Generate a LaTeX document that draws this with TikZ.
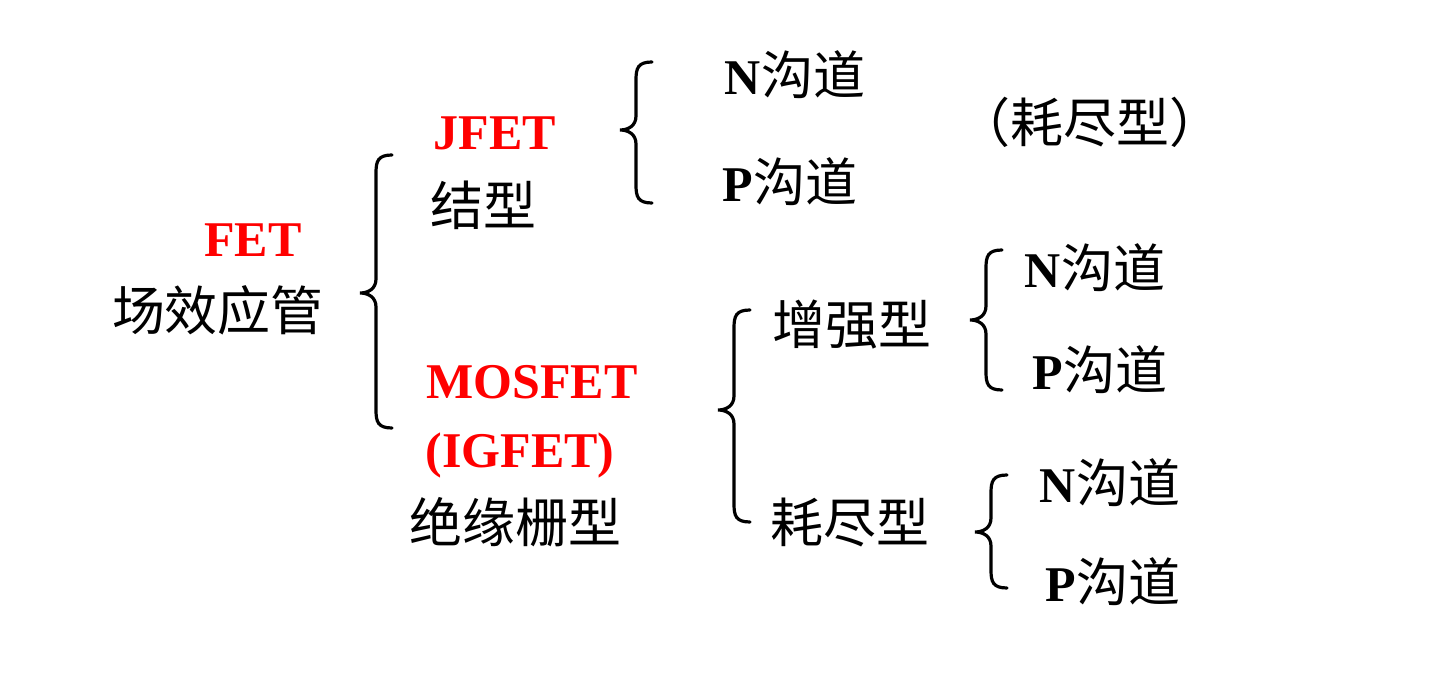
\documentclass[tikz,border=0pt]{standalone}
\usepackage{fontspec}
\setmainfont{Liberation Serif}
\newfontfamily\cjk{Noto Sans CJK SC}
\newcommand{\gd}{{\mdseries\fontsize{26}{28}\selectfont\cjk 沟道}}
\begin{document}
\begin{tikzpicture}[x=0.5pt,y=-0.5pt,
  lat/.style={font=\fontsize{25}{28}\selectfont\bfseries},
  red/.style={lat,text=red},
  zh/.style={font=\fontsize{26.5}{28}\selectfont\cjk},
  br/.style={line width=1.6pt,line cap=round}]
\useasboundingbox (0,0) rectangle (1436,700);
\newcommand{\mybrace}[4]{% x, ytop, ybot, ytip
  \draw[br] (#1+32,#2) .. controls (#1+18,#2) and (#1+16,#2+6) .. (#1+16,#2+18)
    -- (#1+16,#4-14) .. controls (#1+16,#4-4) and (#1+8,#4) .. (#1,#4)
    .. controls (#1+8,#4) and (#1+16,#4+4) .. (#1+16,#4+14)
    -- (#1+16,#3-18) .. controls (#1+16,#3-6) and (#1+18,#3) .. (#1+32,#3);}
\node[red] (fet) at (253,240) {FET};
\node[zh] (fetzh) at (218,310) {场效应管};
\node[red] (jfet) at (495,133) {JFET};
\node[zh] (jzh) at (483,205) {结型};
\node[red] (mos) at (532,382) {MOSFET};
\node[red] (ig) at (520,455) {(IGFET)};
\node[zh] (mzh) at (515,522) {绝缘栅型};
\node[lat] (n1) at (795,75) {N\gd};
\node[lat] (p1) at (790,182) {P\gd};
\node[zh] (hj) at (1090,122) {（耗尽型）};
\node[zh] (zq) at (852,325) {增强型};
\node[lat] (n2) at (1095,268) {N\gd};
\node[lat] (p2) at (1100,370) {P\gd};
\node[zh] (hj2) at (850,522) {耗尽型};
\node[lat] (n3) at (1110,483) {N\gd};
\node[lat] (p3) at (1113,582) {P\gd};
\mybrace{360}{155}{428}{293}
\mybrace{620}{62}{203}{130}
\mybrace{718}{310}{522}{410}
\mybrace{970}{250}{390}{320}
\mybrace{975}{475}{588}{532}
\end{tikzpicture}
\end{document}
